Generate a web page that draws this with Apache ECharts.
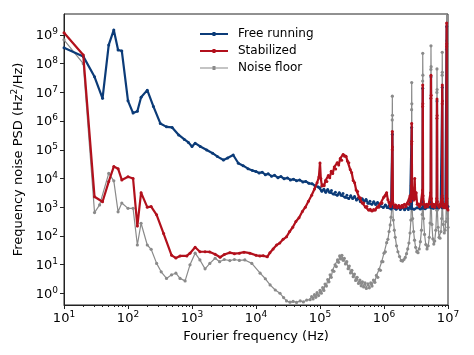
<!DOCTYPE html>
<html><head><meta charset="utf-8">
<script src="https://cdn.jsdelivr.net/npm/echarts@6/dist/echarts.min.js"></script>
<style>html,body{margin:0;padding:0;background:#fff}#c{width:474px;height:355px}</style>
</head><body><div id="c"></div>
<script>
// ---- data (Hz, Hz^2/Hz) ----
const xTickExp = [1, 2, 3, 4, 5, 6, 7];
const yTickExp = [0, 1, 2, 3, 4, 5, 6, 7, 8, 9];
const seriesNames = ['Free running', 'Stabilized', 'Noise floor'];

const freeFreq = [10,20,30,40,50,60,70,80,100,120,
  140,160,200,250,320,400,490,620,760,880,
  1000,1120,1350,1700,2100,2500,3100,3600,4400,5300,
  6300,7500,8800,
  1.0e4,1.12e4,1.25e4,1.4e4,1.55e4,1.75e4,1.95e4,2.2e4,2.45e4,2.75e4,
  3.1e4,3.45e4,3.85e4,4.3e4,4.8e4,5.4e4,6.0e4,6.7e4,7.5e4,8.4e4,9.4e4,
  1.0e5,1.07e5,1.15e5,1.23e5,1.32e5,1.41e5,1.51e5,1.62e5,1.74e5,1.86e5,
  2.0e5,2.14e5,2.29e5,2.46e5,2.63e5,2.82e5,3.02e5,3.24e5,3.47e5,3.72e5,
  3.98e5,4.27e5,4.57e5,4.9e5,5.25e5,5.62e5,6.03e5,6.46e5,6.92e5,7.41e5,
  7.94e5,8.51e5,9.12e5,9.77e5,1.05e6,1.12e6,1.2e6,1.29e6,
  1.34e6,1.35e6,1.36e6,
  1.45e6,1.55e6,1.65e6,1.8e6,1.95e6,2.1e6,2.25e6,2.4e6,2.55e6,2.69e6,
  2.71e6,2.73e6,2.95e6,3.3e6,3.7e6,4.01e6,4.03e6,4.05e6,4.4e6,4.9e6,
  5.4e6,5.42e6,5.44e6,5.9e6,6.3e6,6.71e6,6.73e6,6.75e6,7.2e6,7.7e6,
  8.11e6,8.13e6,8.15e6,8.6e6,9.1e6,9.51e6,9.53e6,9.55e6,9.8e6,1.0e7];
const freeVal = [3.6e8,1.8e8,3.5e7,6.2e6,4.5e8,1.5e9,3.0e8,2.8e8,5.1e6,1.9e6,
  2.2e6,6.8e6,1.2e7,3.2e6,8.3e5,6.3e5,6.0e5,3.3e5,2.3e5,1.8e5,
  1.3e5,1.7e5,1.3e5,9.8e4,7.6e4,5.8e4,4.4e4,5.2e4,6.6e4,3.4e4,
  2.8e4,2.2e4,1.9e4,
  1.74e4,1.55e4,1.66e4,1.35e4,1.45e4,1.2e4,1.29e4,1.07e4,1.17e4,9.8e3,
  1.05e4,8.9e3,9.5e3,8.3e3,8.9e3,7.6e3,7.9e3,6.8e3,6.6e3,5.5e3,5.1e3,
  4.8e3,3.6e3,4.2e3,3.3e3,4.1e3,3.3e3,3.8e3,2.9e3,3.3e3,2.6e3,
  3.2e3,2.6e3,3.0e3,2.24e3,2.6e3,2.0e3,2.5e3,2.0e3,2.35e3,1.78e3,
  2.1e3,1.58e3,1.95e3,1.58e3,1.86e3,1.38e3,1.62e3,1.26e3,1.55e3,1.23e3,
  1.45e3,1.1e3,1.29e3,9.8e2,1.2e3,9.8e2,1.15e3,8.7e2,
  1.0e3,3.5e5,9.7e2,
  1.05e3,8.5e2,1.0e3,8.3e2,9.8e2,8.1e2,9.6e2,8.3e2,9.5e2,8.9e2,
  6.0e5,9.2e2,8.5e2,9.6e2,8.7e2,9.6e2,1.4e7,9.4e2,8.9e2,1.02e3,
  9.8e2,3.5e7,9.6e2,9.1e2,1.05e3,9.7e2,5.0e6,9.5e2,9.3e2,1.07e3,
  9.9e2,1.5e7,9.6e2,9.5e2,1.07e3,1.0e3,2.0e9,9.8e2,1.0e3,1.05e3];

const stabFreq = [10,20,30,40,50,60,70,80,100,120,
  140,160,200,230,280,360,480,560,650,830,
  930,1120,1330,1600,1900,2300,2750,3200,3900,4600,
  5500,6500,8000,
  1.0e4,1.15e4,1.3e4,1.5e4,1.65e4,1.85e4,2.1e4,2.35e4,2.65e4,3.0e4,
  3.35e4,3.75e4,4.2e4,4.7e4,5.3e4,5.9e4,6.6e4,7.4e4,8.2e4,9.0e4,9.6e4,
  1.0e5,1.03e5,1.07e5,1.11e5,1.16e5,1.22e5,1.28e5,1.35e5,1.42e5,1.5e5,
  1.58e5,1.67e5,1.76e5,1.86e5,1.96e5,2.07e5,2.18e5,2.3e5,2.42e5,2.55e5,
  2.68e5,2.82e5,2.97e5,3.13e5,3.3e5,3.48e5,3.67e5,3.87e5,4.08e5,4.3e5,
  4.55e5,4.8e5,5.1e5,5.4e5,5.75e5,6.1e5,6.5e5,6.9e5,7.3e5,7.8e5,
  8.3e5,8.8e5,9.3e5,9.9e5,1.05e6,1.1e6,1.15e6,1.2e6,1.26e6,1.31e6,
  1.345e6,1.35e6,1.355e6,1.38e6,1.45e6,1.52e6,1.6e6,1.7e6,1.8e6,1.9e6,
  2.0e6,2.1e6,2.2e6,2.32e6,2.45e6,2.55e6,2.62e6,2.67e6,2.705e6,2.71e6,
  2.715e6,2.75e6,2.8e6,2.88e6,2.95e6,3.02e6,3.08e6,3.18e6,3.3e6,3.45e6,
  3.6e6,3.75e6,3.9e6,4.0e6,4.02e6,4.03e6,4.045e6,4.08e6,4.2e6,4.4e6,
  4.6e6,4.8e6,5.0e6,5.2e6,5.35e6,5.4e6,5.42e6,5.45e6,5.5e6,5.7e6,
  5.95e6,6.2e6,6.45e6,6.65e6,6.71e6,6.73e6,6.76e6,6.82e6,7.0e6,7.3e6,
  7.6e6,7.9e6,8.08e6,8.11e6,8.13e6,8.16e6,8.22e6,8.45e6,8.75e6,9.0e6,
  9.25e6,9.45e6,9.5e6,9.53e6,9.56e6,9.62e6,9.8e6,1.0e7];
const stabVal = [1.2e9,2.0e8,2.3e3,1.55e3,7.8e3,2.6e4,2.2e4,8.9e3,1.15e4,1.0e4,
  2.2e2,3.2e3,1.0e3,1.05e3,5.4e2,1.2e2,21,17,20,20,
  25,40,28,28,27.5,23,18,22.4,26,24,
  25,27,25,
  21,20,20.4,18.6,26,35,48,56,76,93,
  141,200,316,427,708,1.0e3,1.6e3,2.6e3,4.3e3,7.1e3,1.12e4,
  3.5e4,1.0e4,5.5e3,6.0e3,5.6e3,8.5e3,7.8e3,1.26e4,1.07e4,1.78e4,
  1.48e4,2.5e4,2.14e4,3.55e4,2.95e4,5.0e4,4.3e4,6.9e4,6.0e4,6.0e4,
  4.1e4,3.55e4,2.04e4,1.58e4,8.5e3,7.1e3,4.0e3,3.55e3,2.24e3,2.1e3,
  1.41e3,1.41e3,1.02e3,1.05e3,7.9e2,8.5e2,7.4e2,8.3e2,7.9e2,1.0e3,
  1.0e3,1.35e3,1.41e3,2.24e3,2.5e3,3.2e3,1.8e3,1.45e3,1.05e3,1.3e3,
  1.0e5,4.3e5,1.26e5,1.41e3,1.0e3,1.2e3,9.5e2,1.15e3,9.5e2,1.15e3,
  1.0e3,1.26e3,1.05e3,1.41e3,1.26e3,2.5e3,1.58e3,5.6e3,1.6e5,8.3e5,
  2.0e5,5.0e3,2.0e3,4.0e3,1.78e3,1.0e4,2.0e3,3.2e3,1.26e3,1.3e3,
  1.05e3,1.3e3,1.26e3,4.0e3,3.2e6,1.8e7,4.0e6,2.5e3,1.3e3,1.0e3,
  1.26e3,1.05e3,1.3e3,1.26e3,3.2e3,6.3e6,4.0e7,7.9e6,2.0e3,1.05e3,
  1.26e3,1.0e3,1.26e3,2.0e3,1.26e6,5.9e6,1.58e6,1.58e3,1.12e3,1.0e3,
  1.26e3,1.12e3,2.5e3,4.0e6,1.8e7,5.0e6,2.0e3,1.0e3,1.26e3,9.5e2,
  1.26e3,2.5e3,4.0e8,2.6e9,5.0e8,2.0e3,8.9e2,7.9e2];

const noiseFreq = [10,20,30,36,50,60,70,80,100,120,
  140,160,200,230,280,330,400,480,560,650,
  780,930,1120,1330,1600,1900,2300,2700,3200,3900,
  4600,5500,6700,8600,1.16e4,1.4e4,1.66e4,2.0e4,2.37e4,2.7e4,
  3.0e4,3.4e4,3.8e4,4.3e4,4.9e4,5.5e4,6.2e4,
  7.0e4,7.4e4,7.8e4,8.2e4,8.6e4,9.0e4,9.5e4,1.0e5,1.05e5,1.1e5,
  1.15e5,1.2e5,1.26e5,1.32e5,1.38e5,1.44e5,1.5e5,1.57e5,1.65e5,1.72e5,
  1.8e5,1.88e5,1.95e5,2.03e5,2.1e5,2.2e5,2.3e5,2.4e5,2.5e5,2.62e5,
  2.75e5,2.87e5,3.0e5,3.15e5,3.3e5,3.45e5,3.6e5,3.8e5,4.0e5,4.2e5,
  4.4e5,4.6e5,4.8e5,5.05e5,5.3e5,5.6e5,5.9e5,6.2e5,6.5e5,6.85e5,
  7.2e5,7.6e5,8.0e5,8.4e5,8.8e5,9.2e5,9.6e5,1.0e6,1.05e6,1.1e6,
  1.15e6,1.2e6,1.25e6,1.29e6,1.32e6,1.345e6,1.35e6,1.355e6,1.37e6,1.4e6,
  1.45e6,1.5e6,1.57e6,1.65e6,1.75e6,1.85e6,1.95e6,2.05e6,2.15e6,2.25e6,
  2.35e6,2.45e6,2.55e6,2.63e6,2.68e6,2.70e6,2.71e6,2.72e6,2.74e6,2.8e6,
  2.9e6,3.0e6,3.12e6,3.25e6,3.4e6,3.55e6,3.7e6,3.85e6,3.95e6,4.0e6,
  4.02e6,4.03e6,4.05e6,4.08e6,4.15e6,4.3e6,4.5e6,4.7e6,4.9e6,5.1e6,
  5.25e6,5.36e6,5.40e6,5.42e6,5.45e6,5.48e6,5.6e6,5.8e6,6.0e6,6.2e6,
  6.45e6,6.65e6,6.71e6,6.73e6,6.76e6,6.82e6,7.0e6,7.25e6,7.5e6,7.75e6,
  7.95e6,8.08e6,8.11e6,8.13e6,8.16e6,8.22e6,8.45e6,8.75e6,9.0e6,9.25e6,
  9.45e6,9.5e6,9.53e6,9.56e6,9.62e6,9.8e6,1.0e7];
const noiseVal = [6.8e8,1.0e8,6.5e2,1.2e3,1.5e4,8.3e3,6.9e2,1.4e3,9.1e2,9.1e2,
  48,2.75e2,48,34,11,5.6,3.3,4.4,5.0,3.3,
  2.7,9.8,25,14.5,7.1,11,16.6,12.6,15,13.8,
  15,14,14.5,11,5.0,3.2,1.95,1.3,1.0,0.71,
  0.54,0.49,0.52,0.48,0.54,0.5,0.58,
  0.6,0.76,0.63,0.89,0.72,1.05,0.83,1.26,1.0,1.58,
  1.26,2.1,1.78,3.0,2.5,4.4,3.6,6.3,5.8,9.8,
  8.5,14.5,12,20,15.8,21,14.1,16.6,10.5,12.6,
  7.2,8.9,5.1,6.3,3.8,4.7,2.8,3.6,2.2,2.9,
  1.82,2.5,1.66,2.3,1.48,2.14,1.55,2.3,1.78,2.9,
  2.4,4.2,3.6,6.8,6.3,12.6,12.6,25,28,58,
  76,141,240,450,890,1.1e6,7.4e6,1.6e6,1.0e3,355,
  158,89,45,28,19,13.8,13.2,15,17.8,24,
  35,56,126,355,1.26e3,2.5e6,2.2e7,4.0e6,1.6e3,400,
  141,71,40,28,26,35,63,158,560,2.0e3,
  2.5e7,2.3e8,4.0e7,1.6e3,400,112,50,35,45,89,
  280,1.6e3,6.3e7,4.2e8,7.9e7,1.26e3,250,79,52,66,
  158,790,1.0e7,6.6e7,1.26e7,790,200,89,83,141,
  400,1.6e3,4.0e7,2.5e8,5.0e7,1.0e3,250,126,158,316,
  1.6e3,3.2e8,2.0e10,6.3e8,1.6e3,400,200];

// ---- chart ----
const FONT = 'DejaVu Sans';
const COLORS = ['#0b3b78', '#b2101c', '#8a8a8a'];
const pairs = (fx, fy) => fx.map((f, i) => [f, fy[i]]);
const xMajor = xTickExp.map(e => Math.pow(10, e));
const yMajor = yTickExp.map(e => Math.pow(10, e));
const xMinor = [];
for (let e = 1; e < 7; e++) for (let k = 2; k <= 9; k++) xMinor.push(k * Math.pow(10, e));

const supRich = {
  b: { fontFamily: FONT, fontSize: 13, color: '#000', verticalAlign: 'bottom' },
  s: { fontFamily: FONT, fontSize: 9, color: '#000', verticalAlign: 'bottom', padding: [0, 0, 6, 0] }
};
const powLabel = v => '{b|10}{s|' + Math.round(Math.log10(v)) + '}';

const iconThick = 'path://M0,1L12.5,1L12.5,0L15.5,0L15.5,1L28,1L28,3L15.5,3L15.5,4L12.5,4L12.5,3L0,3Z';
const iconThin = 'path://M0,1.5L12.5,1.5L12.5,0L15.5,0L15.5,1.5L28,1.5L28,2.5L15.5,2.5L15.5,4L12.5,4L12.5,2.5L0,2.5Z';

const mkSeries = (name, data, color, width, size, z) => ({
  type: 'line', name, data, z,
  symbol: 'circle', symbolSize: size, showSymbol: true,
  lineStyle: { color, width, join: 'round' },
  itemStyle: { color, borderWidth: 0 },
  emphasis: { disabled: true },
  clip: true, animation: false
});

const chart = echarts.init(document.getElementById('c'), null, { renderer: 'canvas' });
chart.setOption({
  animation: false,
  backgroundColor: '#fff',
  textStyle: { fontFamily: FONT },
  grid: { left: 64, right: 26, top: 14, bottom: 50, show: true, borderColor: '#222', borderWidth: 1 },
  legend: {
    orient: 'vertical', left: 195, top: 23,
    itemWidth: 28, itemHeight: 14, itemGap: 5,
    itemStyle: { borderWidth: 0 },
    textStyle: { fontFamily: FONT, fontSize: 12, color: '#000', padding: [0, 0, 0, 5] },
    data: [
      { name: seriesNames[0], icon: iconThick },
      { name: seriesNames[1], icon: iconThick },
      { name: seriesNames[2], icon: iconThin }
    ]
  },
  xAxis: [{
    type: 'log', logBase: 10, min: 10, max: 1e7, position: 'bottom',
    name: 'Fourier frequency (Hz)', nameLocation: 'middle', nameGap: 20,
    nameTextStyle: { fontFamily: FONT, fontSize: 13, color: '#000' },
    axisLine: { show: true, onZero: false, lineStyle: { color: '#222', width: 1 } },
    axisTick: { show: true, customValues: xMajor, length: 4, lineStyle: { color: '#222' } },
    axisLabel: { customValues: xMajor, margin: 5, formatter: powLabel, rich: supRich },
    splitLine: { show: false }
  }, {
    type: 'log', logBase: 10, min: 10, max: 1e7, position: 'bottom',
    axisLine: { show: false },
    axisTick: { show: true, customValues: xMinor, length: 2, lineStyle: { color: '#222' } },
    axisLabel: { show: false },
    splitLine: { show: false }
  }],
  yAxis: [{
    type: 'log', logBase: 10, min: 0.39, max: 5.4e9,
    name: '{a|Frequency noise PSD (Hz}{s|2}{a|/Hz)}', nameLocation: 'middle', nameGap: 36, nameRotate: 90,
    nameTextStyle: {
      rich: {
        a: { fontFamily: FONT, fontSize: 13, color: '#000', verticalAlign: 'bottom' },
        s: { fontFamily: FONT, fontSize: 9, color: '#000', verticalAlign: 'bottom', padding: [0, 0, 6, 0] }
      }
    },
    axisLine: { show: true, onZero: false, lineStyle: { color: '#222', width: 1 } },
    axisTick: { show: true, customValues: yMajor, length: 4, lineStyle: { color: '#222' } },
    axisLabel: { customValues: yMajor, margin: 6, formatter: powLabel, rich: supRich },
    splitLine: { show: false }
  }],
  series: [
    mkSeries(seriesNames[0], pairs(freeFreq, freeVal), COLORS[0], 2.2, 3, 3),
    mkSeries(seriesNames[1], pairs(stabFreq, stabVal), COLORS[1], 2.2, 3, 4),
    mkSeries(seriesNames[2], pairs(noiseFreq, noiseVal), COLORS[2], 1.2, 3.2, 2)
  ]
});
</script></body></html>
